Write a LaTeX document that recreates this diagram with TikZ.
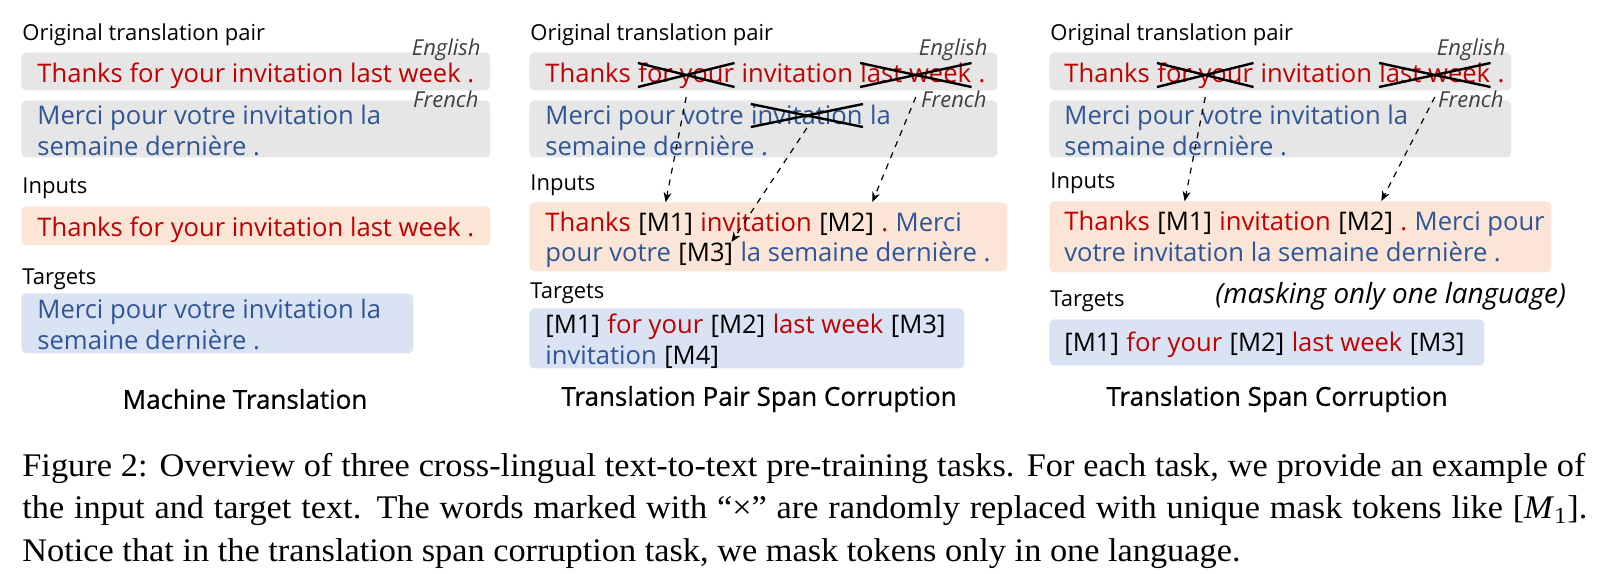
\documentclass[tikz,border=0pt]{standalone}
\usepackage{fontspec}
\setmainfont{Open Sans}
\newfontfamily\capfont[FakeStretch=1.04]{Liberation Serif}
\newfontfamily\titlefont[FakeBold=0.7]{Open Sans}
\usetikzlibrary{positioning,arrows.meta}

\definecolor{enred}{HTML}{C00000}
\definecolor{frblue}{HTML}{2F5597}
\definecolor{pairgray}{HTML}{E7E6E6}
\definecolor{inpeach}{HTML}{FBE5D6}
\definecolor{tgtblue}{HTML}{DAE3F3}
\definecolor{langgray}{HTML}{404040}

\begin{document}
\begin{tikzpicture}[x=0.5pt, y=-0.5pt]

\tikzstyle{lbl} = [anchor=base west, inner sep=0pt, font=\fontsize{11}{13}\selectfont]
\tikzstyle{lang} = [anchor=base east, inner sep=0pt, text=langgray, font=\fontsize{11}{13}\selectfont\itshape]
\tikzstyle{txt} = [anchor=base west, inner sep=0pt, font=\fontsize{12.8}{15}\selectfont]
\tikzstyle{wd} = [txt, xshift=3.33pt]
\tikzstyle{pairbox} = [anchor=north west, fill=pairgray, rounded corners=2.5pt, inner sep=0pt]
\tikzstyle{inbox} = [anchor=north west, fill=inpeach, rounded corners=2.5pt, inner sep=0pt]
\tikzstyle{tgtbox} = [anchor=north west, fill=tgtblue, rounded corners=2.5pt, inner sep=0pt]
\tikzstyle{title} = [inner sep=0pt, font=\titlefont\fontsize{13}{15}\selectfont]
\tikzstyle{cross} = [line width=1.2pt]
\tikzstyle{link} = [dashed, line width=0.6pt, -{Stealth[length=5pt, width=4pt]}]
\tikzstyle{capline} = [anchor=base west, inner sep=0pt, font=\capfont\fontsize{16.5}{21}\selectfont]

\useasboundingbox (0,0) rectangle (1598,573);

% column 1: machine translation
\node [lbl] (c1_orig) at (22,40) {Original translation pair};
\node [pairbox, minimum width=234.5pt, minimum height=19pt] (c1_en_box) at (21,52) {};
\node [pairbox, minimum width=234.5pt, minimum height=28.5pt] (c1_fr_box) at (21,100) {};
\node [lang] (c1_en_lang) at (481,55) {English};
\node [lang] (c1_fr_lang) at (479,107) {French};
\node [txt, text=enred] (c1_en) at (37,82) {Thanks for your invitation last week .};
\node [txt, text=frblue] (c1_fr1) at (37,124) {Merci pour votre invitation la};
\node [txt, text=frblue] (c1_fr2) at (37,155) {semaine dernière .};

\node [lbl] (c1_in_lbl) at (22,193) {Inputs};
\node [inbox, minimum width=234.5pt, minimum height=19.5pt] (c1_in_box) at (21,206) {};
\node [txt, text=enred] (c1_in) at (37,236) {Thanks for your invitation last week .};

\node [lbl] (c1_tg_lbl) at (22,284) {Targets};
\node [tgtbox, minimum width=196pt, minimum height=30pt] (c1_tg_box) at (21,293) {};
\node [txt, text=frblue] (c1_tg1) at (37,318) {Merci pour votre invitation la};
\node [txt, text=frblue] (c1_tg2) at (37,349) {semaine dernière .};

\node [title] (c1_title) at (245,399) {Machine Translation};

% column 2: translation pair span corruption
\node [lbl] (c2_orig) at (530,40) {Original translation pair};
\node [pairbox, minimum width=234pt, minimum height=19pt] (c2_en_box) at (529,52) {};
\node [pairbox, minimum width=234pt, minimum height=28.5pt] (c2_fr_box) at (529,100) {};
\node [lang] (c2_en_lang) at (988,55) {English};
\node [lang] (c2_fr_lang) at (987,107) {French};
\node [txt, text=enred] (c2_en_a) at (545,82) {Thanks};
\node [wd, text=enred] (c2_en_b) at (c2_en_a.base east) {for your};
\node [wd, text=enred] (c2_en_c) at (c2_en_b.base east) {invitation};
\node [wd, text=enred] (c2_en_d) at (c2_en_c.base east) {last week};
\node [wd, text=enred] (c2_en_e) at (c2_en_d.base east) {.};
\node [txt, text=frblue] (c2_fr_a) at (545,124) {Merci pour votre};
\node [wd, text=frblue] (c2_fr_b) at (c2_fr_a.base east) {invitation};
\node [wd, text=frblue] (c2_fr_c) at (c2_fr_b.base east) {la};
\node [txt, text=frblue] (c2_fr2) at (545,155) {semaine dernière .};

\node [lbl] (c2_in_lbl) at (530,190) {Inputs};
\node [inbox, minimum width=239pt, minimum height=34.5pt] (c2_in_box) at (529,202) {};
\node [txt, text=enred] (c2_in_a) at (545,231) {Thanks};
\node [wd] (c2_in_m1) at (c2_in_a.base east) {[M1]};
\node [wd, text=enred] (c2_in_b) at (c2_in_m1.base east) {invitation};
\node [wd] (c2_in_m2) at (c2_in_b.base east) {[M2]};
\node [wd, text=enred] (c2_in_c) at (c2_in_m2.base east) {.};
\node [wd, text=frblue] (c2_in_d) at (c2_in_c.base east) {Merci};
\node [txt, text=frblue] (c2_in_e) at (545,261) {pour votre};
\node [wd] (c2_in_m3) at (c2_in_e.base east) {[M3]};
\node [wd, text=frblue] (c2_in_f) at (c2_in_m3.base east) {la semaine dernière .};

\node [lbl] (c2_tg_lbl) at (530,298) {Targets};
\node [tgtbox, minimum width=217.5pt, minimum height=30pt] (c2_tg_box) at (529,308) {};
\node [txt] (c2_tg_m1) at (545,333) {[M1]};
\node [wd, text=enred] (c2_tg_a) at (c2_tg_m1.base east) {for your};
\node [wd] (c2_tg_m2) at (c2_tg_a.base east) {[M2]};
\node [wd, text=enred] (c2_tg_b) at (c2_tg_m2.base east) {last week};
\node [wd] (c2_tg_m3) at (c2_tg_b.base east) {[M3]};
\node [txt, text=frblue] (c2_tg_c) at (545,364) {invitation};
\node [wd] (c2_tg_m4) at (c2_tg_c.base east) {[M4]};

\node [title] (c2_title) at (759,399) {Translation Pair Span Corruption};

\draw[cross] ([yshift=-2.5pt]c2_en_b.base west) -- ([yshift=9.5pt]c2_en_b.base east);
\draw[cross] ([yshift=9.5pt]c2_en_b.base west) -- ([yshift=-2.5pt]c2_en_b.base east);
\draw[cross] ([yshift=-2.5pt]c2_en_d.base west) -- ([yshift=9.5pt]c2_en_d.base east);
\draw[cross] ([yshift=9.5pt]c2_en_d.base west) -- ([yshift=-2.5pt]c2_en_d.base east);
\draw[cross] ([yshift=-1.5pt]c2_fr_b.base west) -- ([yshift=10pt]c2_fr_b.base east);
\draw[cross] ([yshift=10pt]c2_fr_b.base west) -- ([yshift=-1.5pt]c2_fr_b.base east);

\draw[link] ([yshift=-7.5pt]c2_en_b.base) -- ([yshift=5pt]c2_in_m1.north);
\draw[link] ([yshift=-7.5pt]c2_en_d.base) -- ([xshift=-1pt, yshift=5pt]c2_in_m2.north east);
\draw[link] ([yshift=-2pt]c2_fr_b.base) -- ([xshift=-1pt]c2_in_m3.north east);

% column 3: translation span corruption
\node [lbl] (c3_orig) at (1050,40) {Original translation pair};
\node [pairbox, minimum width=231pt, minimum height=19pt] (c3_en_box) at (1049,52) {};
\node [pairbox, minimum width=231pt, minimum height=28.5pt] (c3_fr_box) at (1049,100) {};
\node [lang] (c3_en_lang) at (1506,55) {English};
\node [lang] (c3_fr_lang) at (1504,107) {French};
\node [txt, text=enred] (c3_en_a) at (1064,82) {Thanks};
\node [wd, text=enred] (c3_en_b) at (c3_en_a.base east) {for your};
\node [wd, text=enred] (c3_en_c) at (c3_en_b.base east) {invitation};
\node [wd, text=enred] (c3_en_d) at (c3_en_c.base east) {last week};
\node [wd, text=enred] (c3_en_e) at (c3_en_d.base east) {.};
\node [txt, text=frblue] (c3_fr1) at (1064,124) {Merci pour votre invitation la};
\node [txt, text=frblue] (c3_fr2) at (1064,155) {semaine dernière .};

\node [lbl] (c3_in_lbl) at (1050,188) {Inputs};
\node [inbox, minimum width=251pt, minimum height=35.5pt] (c3_in_box) at (1049,201) {};
\node [txt, text=enred] (c3_in_a) at (1064,230) {Thanks};
\node [wd] (c3_in_m1) at (c3_in_a.base east) {[M1]};
\node [wd, text=enred] (c3_in_b) at (c3_in_m1.base east) {invitation};
\node [wd] (c3_in_m2) at (c3_in_b.base east) {[M2]};
\node [wd, text=enred] (c3_in_c) at (c3_in_m2.base east) {.};
\node [wd, text=frblue] (c3_in_d) at (c3_in_c.base east) {Merci pour};
\node [txt, text=frblue] (c3_in_e) at (1064,261) {votre invitation la semaine dernière .};

\node [lbl] (c3_tg_lbl) at (1050,306) {Targets};
\node [txt, font=\fontsize{13.9}{16}\selectfont\itshape] (c3_note) at (1215,303) {(masking only one language)};
\node [tgtbox, minimum width=217.5pt, minimum height=23pt] (c3_tg_box) at (1049,319) {};
\node [txt] (c3_tg_m1) at (1064,351) {[M1]};
\node [wd, text=enred] (c3_tg_a) at (c3_tg_m1.base east) {for your};
\node [wd] (c3_tg_m2) at (c3_tg_a.base east) {[M2]};
\node [wd, text=enred] (c3_tg_b) at (c3_tg_m2.base east) {last week};
\node [wd] (c3_tg_m3) at (c3_tg_b.base east) {[M3]};

\node [title] (c3_title) at (1277,399) {Translation Span Corruption};

\draw[cross] ([yshift=-2.5pt]c3_en_b.base west) -- ([yshift=9.5pt]c3_en_b.base east);
\draw[cross] ([yshift=9.5pt]c3_en_b.base west) -- ([yshift=-2.5pt]c3_en_b.base east);
\draw[cross] ([yshift=-2.5pt]c3_en_d.base west) -- ([yshift=9.5pt]c3_en_d.base east);
\draw[cross] ([yshift=9.5pt]c3_en_d.base west) -- ([yshift=-2.5pt]c3_en_d.base east);

\draw[link] ([yshift=-7.5pt]c3_en_b.base) -- ([yshift=5pt]c3_in_m1.north);
\draw[link] ([yshift=-7.5pt]c3_en_d.base) -- ([xshift=-6pt, yshift=5pt]c3_in_m2.north east);

% caption
\node [capline] (cap1) at (22,476) {\makebox[781.5pt][s]{Figure 2: Overview of three cross-lingual text-to-text pre-training tasks. For each task, we provide an example of}};
\node [capline] (cap2) at (22,518) {\makebox[782.5pt][s]{the input and target text. The words marked with “×” are randomly replaced with unique mask tokens like [\textit{M}\textsubscript{1}].}};
\node [capline] (cap3) at (22,561) {Notice that in the translation span corruption task, we mask tokens only in one language.};

\end{tikzpicture}
\end{document}
